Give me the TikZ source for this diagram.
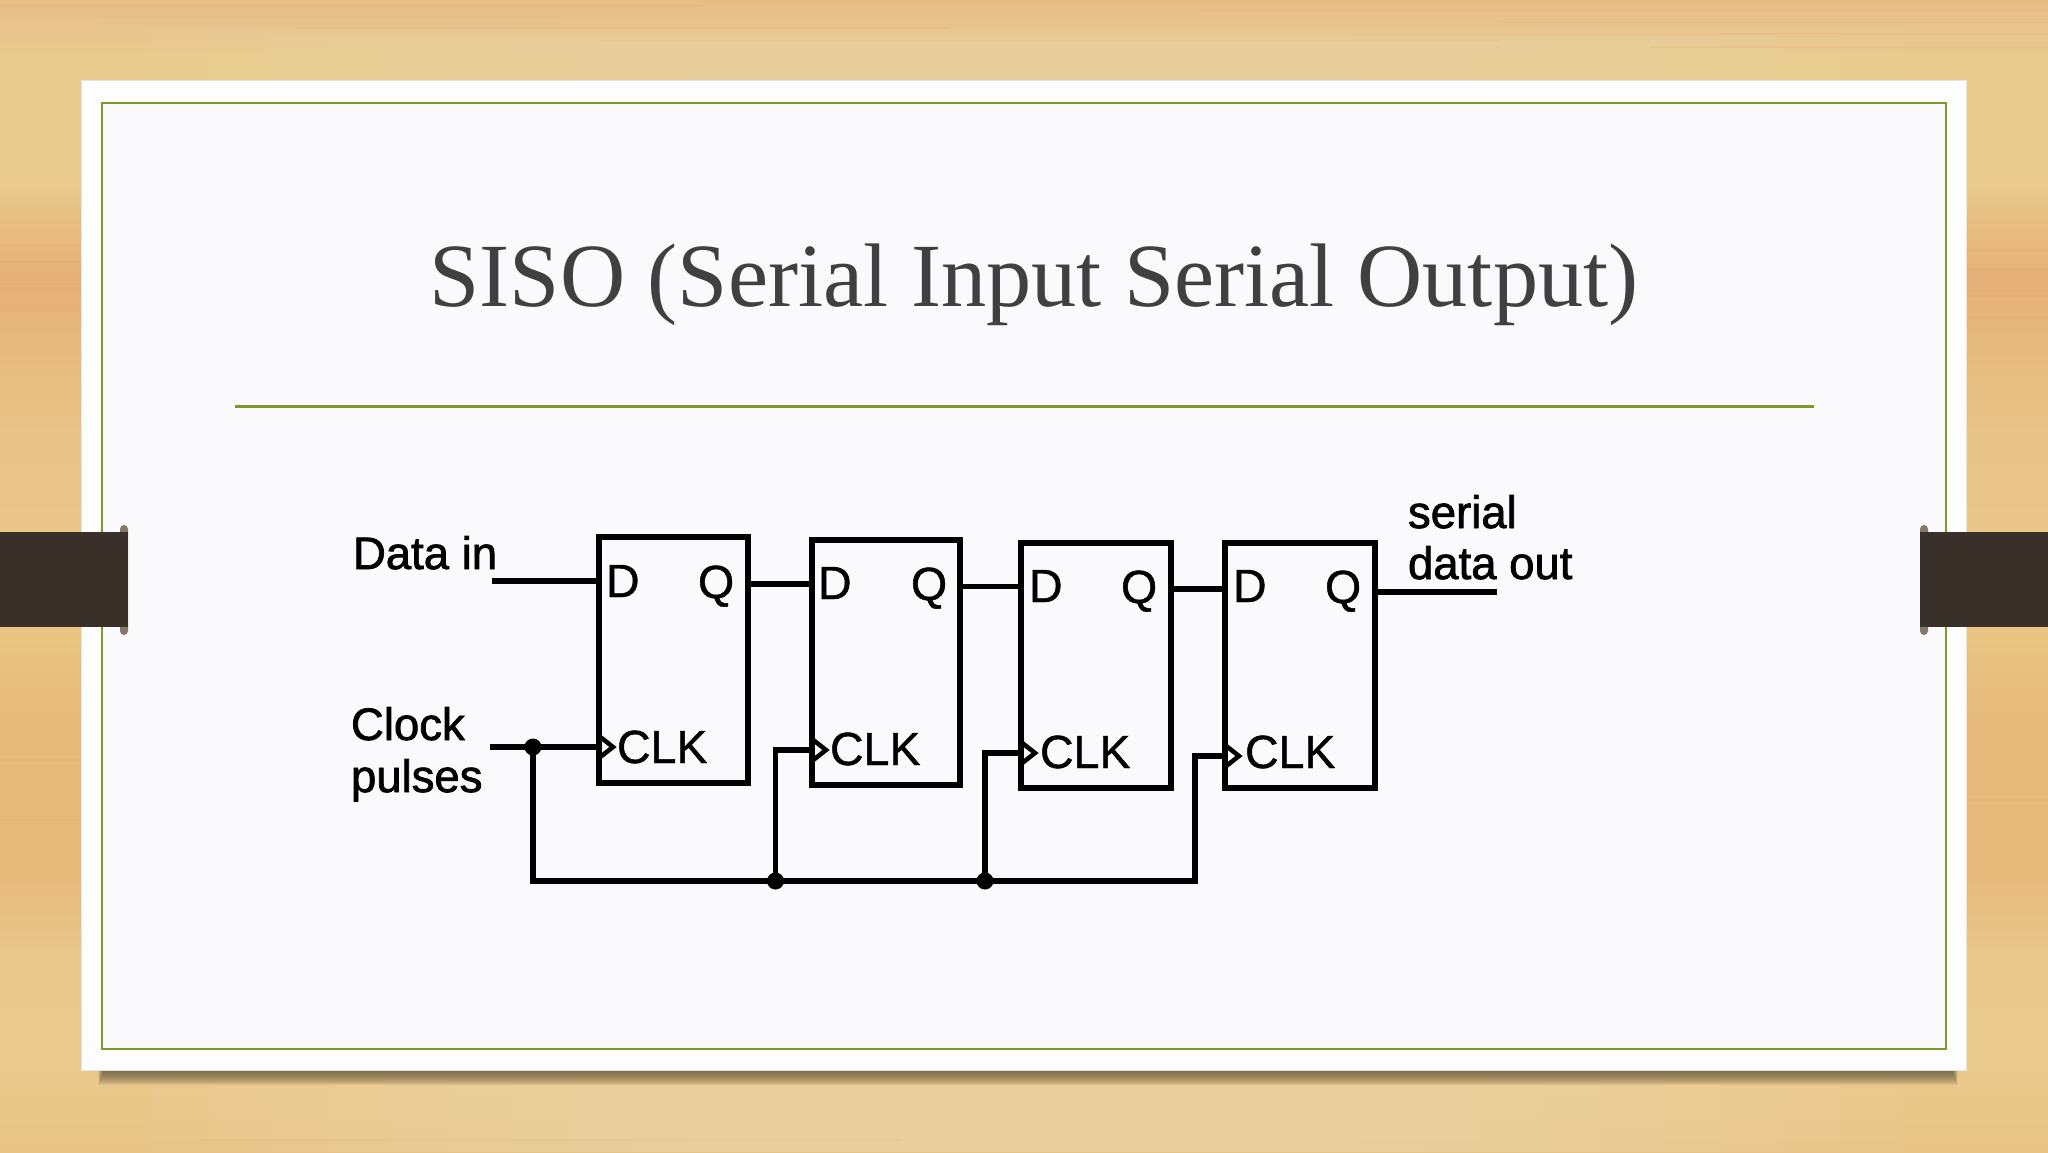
\documentclass[tikz,border=0pt]{standalone}
\usepackage{fontspec}
\usetikzlibrary{calc}
\setmainfont{Liberation Sans}
\newfontfamily\labfont[FakeBold=1.6]{Liberation Sans}
\newfontfamily\ffont[FakeBold=1.0]{Liberation Sans}
\newfontfamily\titlefont{Liberation Serif}
\definecolor{panelout}{HTML}{FDFDFE}
\definecolor{panelin}{HTML}{FAFAFC}
\definecolor{framegreen}{HTML}{7A9A2C}
\definecolor{tabdark}{HTML}{3A302A}
\definecolor{tabcap}{HTML}{85796A}
\definecolor{titlegray}{HTML}{404040}
\definecolor{paleglow}{HTML}{F6DDB8}
\definecolor{grain}{HTML}{D99E62}
\definecolor{shadowtone}{HTML}{5A5238}
\tikzset{
  wire/.style={line width=5.5pt,black,line cap=butt,line join=miter},
  ffbox/.style={draw=black,line width=5.5pt,rectangle,inner sep=0pt,outer sep=0pt},
  port/.style={font=\ffont\fontsize{46.5}{46.5}\selectfont,anchor=base west,inner sep=0pt,outer sep=0pt},
  lab/.style={font=\labfont\fontsize{45.5}{45.5}\selectfont,anchor=base west,inner sep=0pt,outer sep=0pt},
  joint/.style={circle,fill=black,inner sep=0pt,outer sep=0pt,minimum size=17pt},
  clktip/.style={line width=4.5pt,black,line join=miter}
}
\begin{document}
\begin{tikzpicture}[x=1pt,y=-1pt]
\useasboundingbox (0,0) rectangle (2048,1152);
% wood background: vertical gradient segments
\def\woodseg#1#2#3#4{%
  \definecolor{segA}{HTML}{#3}\definecolor{segB}{HTML}{#4}%
  \fill[top color=segA,bottom color=segB] (0,#1-.5) rectangle (2048,#2+.5);}
\woodseg{0}{30}{E8BD85}{E8C58F}
\woodseg{30}{60}{E8C58F}{E8CB8C}
\woodseg{60}{180}{E8CB8C}{E9CB8E}
\woodseg{180}{240}{E9CB8E}{E7B97C}
\woodseg{240}{280}{E7B97C}{E6B078}
\woodseg{280}{350}{E6B078}{E6BA7C}
\woodseg{350}{440}{E6BA7C}{E9C489}
\woodseg{440}{530}{E9C489}{EAC68A}
\woodseg{530}{640}{EAC68A}{E9C482}
\woodseg{640}{720}{E9C482}{E6B97A}
\woodseg{720}{870}{E6B97A}{E6B87A}
\woodseg{870}{960}{E6B87A}{EAC88C}
\woodseg{960}{1060}{EAC88C}{EAC98C}
\woodseg{1060}{1152}{EAC98C}{E8C587}
% paler middle in the top and bottom strips
\foreach \i in {0,...,9}{
  \fill[paleglow,opacity=.06] (150+\i*60,30+\i*2) rectangle (1900-\i*60,80);
  \fill[paleglow,opacity=.07] (150+\i*60,1085) rectangle (1900-\i*60,1152);
}
% fine grain
\foreach \yy/\xa/\xb in {6/0/700,11/1200/2048,17/100/560,22/1500/2048,28/300/950,34/1350/2048,41/600/1500,47/1650/2048,
  245/0/81,262/0/81,284/0/81,305/0/81,250/1966/2048,270/1966/2048,296/1966/2048,318/1966/2048,760/0/81,820/0/81,800/1966/2048,1140/200/900}{
  \draw[grain,opacity=.14,line width=1.6pt] (\xa,\yy) -- (\xb,\yy);
}
% shadow
\foreach \g in {0,...,14}{
  \fill[shadowtone,opacity=.085] (104-\g*.4,1060) rectangle (1952+\g*.4,1071+\g);
}
% panel
\fill[panelout] (81,80) rectangle (1966,1070);
\draw[black!10,line width=.8pt] (81,80) rectangle (1966,1070);
\fill[panelin] (102,103) rectangle (1946,1049);
\draw[framegreen,line width=2.8pt] (102,103) rectangle (1946,1049);
% tabs
\fill[tabcap,rounded corners=4pt] (120,525) rectangle (128,635);
\fill[tabcap,rounded corners=4pt] (1920,525) rectangle (1928,635);
\fill[tabdark] (0,532) rectangle (128,627);
\fill[tabdark] (1920,532) rectangle (2048,627);
% title
\node[font=\titlefont\fontsize{90.3}{90.3}\selectfont,text=titlegray,anchor=base,inner sep=0pt] (title) at (1034,306) {SISO (Serial Input Serial Output)};
\coordinate (ruleL) at (235,406.5);
\coordinate (ruleR) at (1814,406.5);
\draw[framegreen,line width=2.2pt] (ruleL) -- (ruleR);
% flip-flops
\node[ffbox,minimum width=149pt,minimum height=246pt] (ff1) at (673.5,660) {};
\node[ffbox,minimum width=148pt,minimum height=245pt] (ff2) at (886,662.5) {};
\node[ffbox,minimum width=150pt,minimum height=245pt] (ff3) at (1096,665.5) {};
\node[ffbox,minimum width=150pt,minimum height=245pt] (ff4) at (1300,665.5) {};
% port texts
\node[port] (d1) at (606,597) {D};  \node[port] (q1) at (698,598) {Q};  \node[port] (c1) at (617,763) {CLK};
\node[port] (d2) at (818,599) {D};  \node[port] (q2) at (911,600) {Q};  \node[port] (c2) at (830,765) {CLK};
\node[port] (d3) at (1029,602) {D}; \node[port] (q3) at (1121,603) {Q}; \node[port] (c3) at (1040,768) {CLK};
\node[port] (d4) at (1233,602) {D}; \node[port] (q4) at (1325,603) {Q}; \node[port] (c4) at (1245,768) {CLK};
% outer labels
\node[lab] (datain) at (353,569) {Data in};
\node[lab] (clock) at (351,740) {Clock};
\node[lab] (pulses) at (351,792) {pulses};
\node[lab] (serial) at (1408,528) {serial};
\node[lab] (dataout) at (1408,579) {data out};
% free ends
\coordinate (inD) at (492,581);
\coordinate (inC) at (490,747);
\coordinate (outQ) at (1497,592);
\coordinate (bl) at (533,881);
\coordinate (br) at (1195,881);
\coordinate (up4) at (1195,756);
\node[joint] (j1) at (533,747) {};
\node[joint] (j2) at (775.5,881) {};
\node[joint] (j3) at (985,881) {};
% data path
\draw[wire] (inD) -- (inD -| ff1.west);
\draw[wire] (ff1.east |- 0,584) -- (ff2.west |- 0,584);
\draw[wire] (ff2.east |- 0,586.5) -- (ff3.west |- 0,586.5);
\draw[wire] (ff3.east |- 0,589) -- (ff4.west |- 0,589);
\draw[wire] (ff4.east |- outQ) -- (outQ);
% clock path
\draw[wire] (inC) -- (inC -| ff1.west);
\draw[wire] (j1.center) -- (bl) -- (br) -- (up4) -- (up4 -| ff4.west);
\draw[wire] (j2.center) -- (775.5,750) -- (ff2.west |- 0,750);
\draw[wire] (j3.center) -- (985,753) -- (ff3.west |- 0,753);
% clock tips
\draw[clktip] ($(ff1.west |- 0,747)+(0,-11)$) -- ++(14,11) -- ++(-14,11);
\draw[clktip] ($(ff2.west |- 0,750)+(0,-11)$) -- ++(14,11) -- ++(-14,11);
\draw[clktip] ($(ff3.west |- 0,753)+(0,-11)$) -- ++(14,11) -- ++(-14,11);
\draw[clktip] ($(ff4.west |- 0,756)+(0,-11)$) -- ++(14,11) -- ++(-14,11);
\end{tikzpicture}
\end{document}
